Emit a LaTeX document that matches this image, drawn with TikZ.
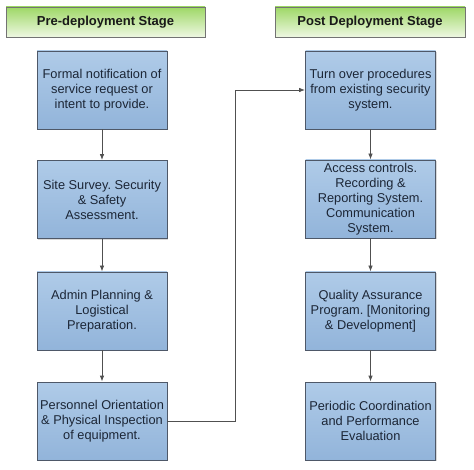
\documentclass[tikz,border=0pt]{standalone}
\usepackage{fontspec}
\setmainfont{Liberation Sans}
\usetikzlibrary{arrows.meta,shadows}
\frenchspacing
\definecolor{boxtop}{HTML}{AFCBE8}
\definecolor{boxbot}{HTML}{92B4DA}
\definecolor{boxline}{HTML}{4E5868}
\definecolor{grtop}{HTML}{9ED866}
\definecolor{grbot}{HTML}{EEF7E2}
\definecolor{arr}{HTML}{505050}
\definecolor{txt}{HTML}{1C2636}
\tikzset{
  x=1pt,y=-1pt,
  stagebox/.style={draw=boxline,line width=0.8pt,top color=boxtop,bottom color=boxbot,
    minimum width=130pt,minimum height=78pt,align=center,inner sep=1pt,
    font=\fontsize{12.8}{15}\selectfont,text=txt,
    drop shadow={shadow xshift=1.2pt,shadow yshift=-1.2pt,opacity=0.3}},
  headbox/.style={draw=black!55,line width=0.8pt,top color=grtop,bottom color=grbot,
    minimum height=30pt,font=\bfseries\fontsize{13}{15}\selectfont,text=black!90},
  link/.style={draw=arr,line width=0.8pt,-{Latex[length=6pt,width=4.5pt]}}
}
\begin{document}
\begin{tikzpicture}
\useasboundingbox (0,0) rectangle (474,470);
\node[headbox,minimum width=199pt] (h1) at (105.5,22) {Pre-deployment Stage};
\node[headbox,minimum width=190pt] (h2) at (370,22) {Post Deployment Stage};

\node[stagebox] (a1) at (102,90) {Formal notification of\\service request or\\intent to provide.};
\node[stagebox] (a2) at (102,199.5) {Site Survey. Security\\\& Safety\\Assessment.};
\node[stagebox] (a3) at (102,311) {Admin Planning \&\\Logistical\\Preparation.};
\node[stagebox] (a4) at (102,421) {Personnel Orientation\\\& Physical Inspection\\of equipment.};

\node[stagebox] (b1) at (370.5,90) {Turn over procedures\\from existing security\\system.};
\node[stagebox] (b2) at (370.5,199) {Access controls.\\Recording \&\\Reporting System.\\Communication\\System.};
\node[stagebox] (b3) at (370.5,311) {Quality Assurance\\Program. [Monitoring\\\& Development]};
\node[stagebox] (b4) at (370.5,421) {Periodic Coordination\\and Performance\\Evaluation};

\coordinate (c1) at (235,421);
\coordinate (c2) at (235,90);

\draw[link] (a1) -- (a2);
\draw[link] (a2) -- (a3);
\draw[link] (a3) -- (a4);
\draw[link] (a4.east) -- (c1) -- (c2) -- (b1.west);
\draw[link] (b1) -- (b2);
\draw[link] (b2) -- (b3);
\draw[link] (b3) -- (b4);
\end{tikzpicture}
\end{document}
